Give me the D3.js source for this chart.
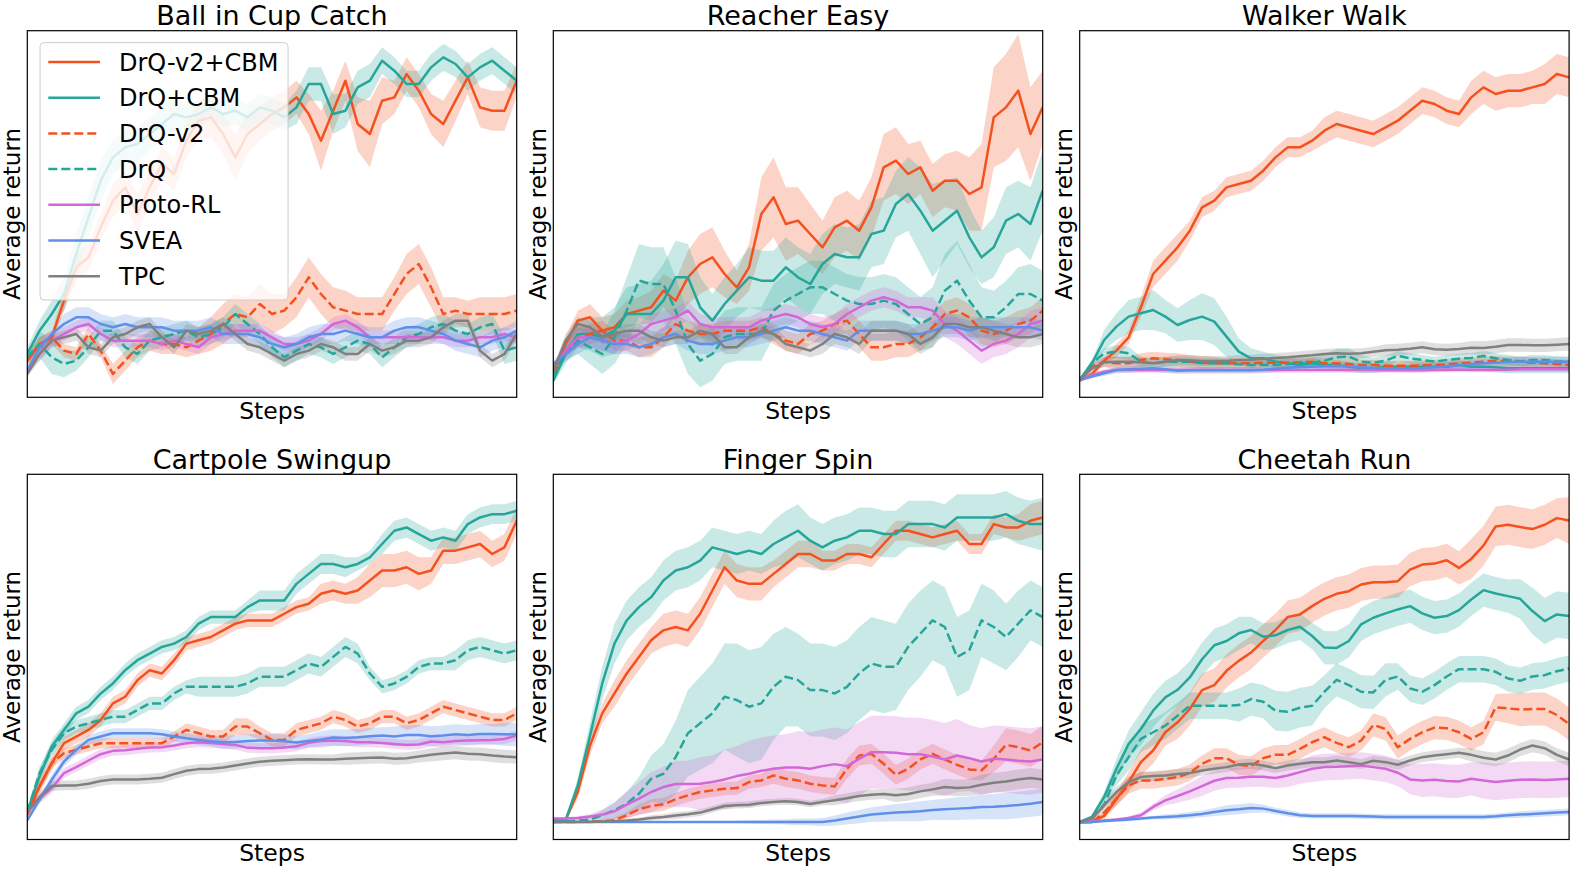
<!DOCTYPE html>
<html>
<head>
<meta charset="utf-8">
<script src="https://cdn.jsdelivr.net/npm/d3@7"></script>
<style>
  body { margin: 0; background: #fff; }
  svg { display: block; font-family: "DejaVu Sans", sans-serif; }
</style>
</head>
<body>
<svg id="chart" width="1573" height="870"></svg>
<script>
"use strict";

// methods, in legend order (also drawing order)
const methods = ["DrQ-v2+CBM", "DrQ+CBM", "DrQ-v2", "DrQ", "Proto-RL", "SVEA", "TPC"];
const colors = ["#f4511e", "#26a69a", "#f4511e", "#26a69a", "#d268d8", "#5f8fe8", "#808080"];
const dashed = [false, false, true, true, false, false, false];

const tasks = ["Ball in Cup Catch", "Reacher Easy", "Walker Walk", "Cartpole Swingup", "Finger Spin", "Cheetah Run"];

// normalised average return (0..110) at 41 evaluation steps, one row per method
const ballMean = [
  [11,16,18,29,39,42,51,59,63,55,63,70,67,77,83,84,79,72,79,82,85,87,90,85,77,86,95,82,79,89,90,97,92,85,82,89,96,87,86,86,95],
  [13,20,25,31,43,54,65,72,75,76,79,82,85,84,85,87,85,86,84,87,86,84,87,94,94,85,86,93,95,101,98,94,94,99,102,100,96,99,101,98,95],
  [11,16,18,14,13,19,14,7,11,15,17,16,16,15,17,19,22,25,24,28,25,26,30,36,31,27,26,25,25,25,31,37,40,33,25,26,25,25,25,25,26],
  [12,16,12,10,11,15,20,20,15,13,17,18,19,20,18,19,21,25,22,19,15,12,14,16,15,13,15,17,16,12,15,18,19,21,22,20,19,21,22,14,15],
  [8,13,17,19,21,22,19,17,17,17,17,16,17,16,15,18,19,20,20,20,18,16,16,17,19,22,23,21,18,18,18,18,18,18,18,17,17,18,18,19,18],
  [8,15,19,22,24,24,22,21,22,21,21,21,20,20,20,21,19,19,19,18,16,15,16,18,19,19,20,19,18,18,20,21,21,20,19,17,16,15,17,18,20],
  [7,13,17,18,19,15,14,18,19,21,22,18,15,20,19,20,22,19,16,15,13,11,13,14,16,15,13,13,16,14,15,17,17,18,21,23,23,14,11,13,19]
];
const ballBand = [
  [1,2,2,3,4,4,4,5,5,6,5,5,5,5,6,6,6,7,6,5,5,5,5,6,9,6,6,8,10,7,5,5,5,6,7,6,5,6,6,6,5],
  [2,3,4,5,6,6,6,5,5,5,5,5,5,4,4,4,4,4,4,4,4,4,5,5,5,6,5,5,5,4,4,4,4,4,4,4,4,4,4,4,4],
  [2,2,2,2,2,2,2,3,3,3,3,3,3,3,4,5,6,6,6,6,6,5,6,6,6,6,6,5,5,5,5,6,6,6,5,4,4,5,5,5,5],
  [2,4,5,4,3,3,3,3,3,3,3,3,3,3,3,3,3,3,3,3,3,3,3,3,3,3,3,3,3,3,3,3,3,3,3,3,3,3,3,4,4],
  [1,2,2,2,2,2,2,2,2,2,2,2,2,2,2,2,2,2,2,2,2,2,2,2,2,2,2,2,2,2,2,2,2,2,2,2,2,2,2,2,2],
  [1,2,2,3,3,3,3,3,3,3,3,3,3,3,3,3,3,3,3,3,3,3,3,3,3,3,3,3,3,3,3,3,3,3,3,3,3,3,3,3,3],
  [1,2,2,2,2,2,2,2,2,2,2,2,2,2,2,2,2,2,2,2,2,2,2,2,2,2,2,2,2,2,2,2,2,2,2,2,2,2,2,2,2]
];

const reacherMean = [
  [8,16,23,24,20,21,25,26,27,32,29,36,40,42,37,33,39,55,60,52,53,49,45,51,53,50,57,69,71,67,69,62,65,65,61,63,84,87,92,79,87],
  [5,13,19,19,18,20,25,25,25,29,36,36,27,23,28,32,36,35,35,39,36,34,40,43,42,42,49,50,58,61,56,50,53,56,48,42,45,53,55,52,62],
  [7,14,18,19,20,17,17,15,15,18,22,20,19,19,20,20,20,21,19,17,16,19,20,22,23,19,15,15,16,16,18,21,25,26,24,20,19,20,22,23,26],
  [6,14,17,15,13,18,26,35,34,34,26,16,11,13,18,19,19,19,26,29,31,33,33,31,29,28,28,29,28,25,22,24,32,35,29,24,24,27,31,31,29],
  [9,14,18,18,17,16,17,19,22,23,24,26,22,21,21,21,21,23,24,25,24,22,21,22,25,27,29,30,29,27,27,26,22,20,17,14,16,17,19,22,23],
  [10,13,16,18,17,16,16,15,16,18,19,17,16,16,17,18,18,19,20,21,20,20,19,18,17,20,20,20,20,19,19,20,21,21,20,21,21,21,21,21,20],
  [8,17,22,21,18,19,20,20,18,17,18,18,20,19,15,15,18,20,19,16,15,14,16,19,18,16,20,20,20,19,16,18,22,22,21,21,20,19,18,18,19]
];
const reacherBand = [
  [1,2,3,4,4,4,4,4,5,5,6,8,9,9,7,5,7,11,12,11,10,9,8,9,9,9,9,10,10,9,8,8,8,9,11,13,15,16,17,14,11],
  [1,3,4,5,6,7,8,9,10,11,11,10,9,8,8,8,9,9,9,9,9,9,9,9,9,10,10,10,10,11,13,14,12,10,9,8,9,10,10,11,12],
  [1,2,3,3,3,3,3,3,3,3,3,3,3,3,3,3,3,3,3,3,3,3,3,3,4,4,4,4,4,4,4,4,4,4,4,4,4,4,4,4,4],
  [1,3,4,5,6,8,10,11,11,11,10,9,8,8,8,8,8,8,8,8,8,8,8,8,8,8,8,8,8,8,8,9,11,12,11,9,8,8,8,9,9],
  [1,2,3,3,3,3,3,3,3,3,3,3,3,3,3,3,3,3,3,3,3,3,3,3,3,3,3,3,3,3,3,4,4,4,4,4,4,4,4,4,4],
  [1,2,3,3,3,3,3,3,3,3,3,3,3,3,3,3,3,3,3,3,3,3,3,3,3,3,3,3,3,3,3,3,3,3,3,3,3,3,3,3,3],
  [1,2,2,2,2,2,2,2,2,2,2,2,2,2,2,2,2,2,2,2,2,2,3,3,3,3,3,3,3,3,3,3,3,3,3,3,3,3,3,3,3]
];

const walkerMean = [
  [5,7,11,14,18,27,37,41,45,50,57,59,63,64,65,68,72,75,75,77,80,82,81,80,79,81,83,86,89,88,86,85,90,93,91,92,92,93,94,97,96],
  [5.2,10.2,17.2,21.2,24.2,25.2,26.2,24.2,21.7,23.2,24.2,22.7,18.2,13.7,11.7,11.7,10.7,10.2,9.7,10.2,9.7,9.7,9.2,8.7,8.7,9.2,9.2,9.2,9.2,9.2,9.2,9.7,9.2,9.2,9,8.7,8.7,8.7,8.7,8.7,8.7],
  [5.2,9.2,10.7,10.2,10.2,11.2,11.7,11.4,11.2,10.7,10.4,10.2,10.2,10.2,10.2,10.4,10.4,10.4,10.5,10.7,10.2,10.2,10,9.7,9.7,9.5,9.5,9.5,9.6,9.7,9.9,10.2,10.4,10.7,11,10.7,10.7,10.4,10.2,10,9.7],
  [5.2,10.2,13.2,13.7,13.2,10.7,10.2,10.7,10.7,10.7,10.2,10.2,10.2,9.9,9.7,9.7,9.7,10,10.2,10.4,11,12,12.2,10.7,10.4,11,12.4,11.7,11.2,10.7,11.2,11.6,11.8,12.4,11.7,11.2,10.8,11.2,11.2,10.8,10.7],
  [5.2,6.7,7.7,8.2,8.2,8.2,8.2,8.2,8.2,8.2,8.2,8.2,8.2,8.2,8.2,8.2,8.2,8.2,8.2,8.2,8.2,8.2,8.2,8.2,8.2,8.2,8.2,8.2,8.2,8.3,8.3,8.3,8.3,8.3,8.3,8.3,8.4,8.4,8.4,8.4,8.4],
  [5.2,6.2,7.2,8.2,8.4,8.6,8.7,8.4,8,8.1,8.1,8.1,8.1,8.1,8.1,8.3,8.6,8.9,9.1,9.2,9.3,9.4,9.3,9,8.8,8.7,8.7,8.7,8.8,9,9.3,9.6,9.9,10.2,10.4,10.6,10.7,10.7,10.7,10.7,10.7],
  [5.2,8.7,10.5,10.7,10.7,10.5,10.2,10.7,11.2,11.1,10.9,10.9,10.9,11.2,11.3,11.6,11.8,12,12.3,12.6,13,13.2,13.1,13.2,13.7,14.1,14.3,14.6,15,14.4,14.3,14.5,14.9,14.8,15.2,15.7,15.7,15.6,15.6,15.8,16]
];
const walkerBand = [
  [0.5,1,1,2,2,3,4,4,4,3,3,3,3,3,3,3,3,3,3,3,4,4,4,4,4,4,4,4,4,4,4,4,5,5,5,5,5,5,6,6,6],
  [0.5,1,3,4,5,5,6,5,5,6,7,7,6,4,3,2,2,2,1.5,1.5,1.5,1.5,1.5,1.5,1.5,1.5,1.5,1.5,1.5,1.5,1.5,1.5,1.5,1.5,1.5,1.5,1.5,1.5,1.5,1.5,1.5],
  [0.5,1,1.5,2,2,2,2,2,2,2,2,2,1.5,1.5,1.5,1.5,1.5,1.5,1.5,1.5,1.5,1.5,1.5,1.5,1.5,1.5,1.5,1.5,1.5,1.5,1.5,1.5,1.5,1.5,1.5,1.5,1.5,1.5,1.5,1.5,1.5],
  [0.5,1,1.5,2,2,1.5,1.5,1.5,1.5,1.5,1.5,1.5,1.5,1.5,1.5,1.5,1.5,1.5,1.5,1.5,2,2.5,2.5,2,1.5,1.5,1.5,1.5,1.5,1.5,1.5,1.5,1.5,1.5,1.5,1.5,1.5,1.5,1.5,1.5,1.5],
  [0.3,0.5,0.8,0.8,0.8,0.8,0.8,0.8,0.8,0.8,0.8,0.8,0.8,0.8,0.8,0.8,0.8,0.8,0.8,0.8,0.8,0.8,0.8,0.8,0.8,0.8,0.8,0.8,0.8,0.8,0.8,0.8,0.8,0.8,0.8,0.8,0.8,0.8,0.8,0.8,0.8],
  [0.3,0.5,0.8,1,1,1,1,1,1,1,1,1,1,1,1,1,1,1,1,1,1,1,1,1,1,1,1,1.2,1.2,1.2,1.2,1.2,1.3,1.3,1.3,1.4,1.4,1.5,1.5,1.5,1.5],
  [0.3,1,1.5,1.5,1.5,1.5,1.5,1.5,1.5,1.5,1.5,1.5,1.5,1.5,1.5,1.5,1.5,1.5,1.5,1.5,1.5,1.5,1.5,1.5,1.5,1.8,1.8,1.8,1.8,1.8,1.8,1.8,2,2,2,2,2,2,2,2,2]
];

const cartpoleMean = [
  [8.3,16,23,29,31,33,36,41,43,48,51,50,54,59,60,61,63,65,66,66,66,68,70,71,74,75,74,75,78,81,81,82,80,81,87,87,88,89,86,88,96],
  [8.3,19,28,33,38,40,44,47,51,54,56,58,59,61,65,67,67,67,70,72,72,72,77,80,83,83,82,83,85,89,93,94,92,90,91,90,95,97,98,98,99],
  [7.3,16,23,26,27,28,29,29,29,29,29,29,31,33,32,31,31,34,34,32,30,30,33,34,35,37,36,34,35,37,37,35,36,38,40,39,38,37,36,36,38],
  [8.3,20,27,32,34,35,36,37,37,39,41,41,44,46,46,46,46,46,47,49,49,49,51,53,52,55,58,56,50,46,47,49,52,53,53,54,57,58,57,56,57],
  [8.3,12.3,15.5,20,21.8,23.8,25.7,26.7,26.9,27.3,27.7,27.8,28.3,29,29.3,29.1,28.8,28.5,27.6,27.5,27.5,27.7,28.1,29.1,29.7,29.8,29.7,29.3,29.3,29.1,28.8,28.5,28.6,29.5,29.3,29.7,29.8,29.9,30,30.3,31.3],
  [5.8,12,18,23.5,27,30,31,32,32,32,32,31.7,31,30.5,30,29.6,29.3,29.4,29.7,29.8,29.8,29.6,29.2,29.7,30.1,30.7,30.6,30.8,31.1,31.3,31,31.5,31.5,31.1,31.3,31.7,31.5,31.8,31.8,31.7,31.6],
  [8.3,12.8,16.1,16.3,16.3,16.8,17.6,18.1,18.1,18.1,18.3,18.6,19.7,20.7,21.2,21.3,21.7,22.3,22.9,23.4,23.7,23.9,24.1,24.2,24.1,24.1,24.3,24.5,24.6,24.7,24.3,24.5,25,25.5,25.9,26.2,25.8,25.7,25.3,25,24.8]
];
const cartpoleBand = [
  [1,2,2,2,2,2,2,2,2,2,2,2,2,2,2,2,2,2,2,2,2,2,2,2,3,3,3,4,5,5,5,5,5,4,4,4,4,4,4,4,4],
  [1,2,2,2,2,2,2,2,2,2,2,2,2,2,2,2,2,2,2,3,3,3,3,3,3,3,3,2,2,3,3,3,3,3,3,3,3,3,3,3,3],
  [1,1.5,1.5,1.5,1.5,1.5,1.5,1.5,1.5,1.5,1.5,1.5,1.5,2,2,2,2,2.5,2.5,2,2,2,2,2,2,2,2,2,2,2,2,2,2,2,2,2,2,2,2,2,2],
  [1,2,2,2,2,2,2,2,2,2,2,2,2,2,3,3,3,3,3,3,3,3,3,3,3,3,3,3,2,2,2,2,2,2,2,3,3,3,3,3,3],
  [1,1.5,1.5,1.5,1.5,1.5,1.5,1.5,1.5,1.5,1.5,1.5,1.5,1.5,1.5,1.5,1.5,1.5,1.5,1.5,1.5,1.5,1.5,1.5,1.5,1.5,1.5,1.5,1.5,1.5,1.5,1.5,1.5,1.5,1.5,1.5,1.5,1.5,1.5,1.5,1.5],
  [0.5,1,1.5,1.5,1.5,1.5,1.5,1.5,1.5,1.5,1.5,1.5,1.5,1.5,1.5,1.5,2,2,2,2,2,2,2,2,2.5,2.5,2.5,2.5,2.5,2.5,3,3,3,3,3,3,3,3,3,3.5,3.5],
  [1,1.5,1.5,1.5,1.5,1.5,1.5,1.5,1.5,1.5,1.5,1.5,1.5,1.5,1.5,1.5,1.5,1.5,1.5,1.5,1.5,1.5,1.5,1.5,1.5,1.5,1.8,1.8,1.8,1.8,1.8,1.8,1.8,2,2,2,2,2,2,2,2]
];

const fingerMean = [
  [5.8,5.8,14.3,28.3,38,44,50,55,60,63,64,63,68,75,82,78,77,77,80,83,86,86,84,84,86,86,85,89,93,93,92,91,92,93,89,89,95,94,94,96,97],
  [5.8,5.8,16.3,31.3,47,59,66,70,73,78,81,82,84,88,87,86,87,86,89,91,93,90,88,90,91,93,93,92,92,95,95,95,94,97,97,97,97,98,96,95,95],
  [5.3,5.3,5.3,5.4,5.5,5.8,7.3,9.1,10.1,10.6,12.1,13.3,14.3,14.8,15.3,15.5,17.3,17.8,19.3,18.3,17.8,16.8,16.3,16,21.3,25.3,25.8,22.8,19.5,21.3,24.1,25.8,24.1,22.5,21.1,20.8,24.3,28.5,27.8,26.8,29.3],
  [5.3,5.5,5.7,6,7.3,8.8,10.8,13.8,18.3,19.8,24.8,32,35,38,43,42,40,41,46,49,48,45,45,44,46,50,53,52,52,58,62,66,64,55,57,66,64,61,65,69,67],
  [6.3,6.3,6.5,6.9,7.5,8.5,10.5,12.3,14.3,15.8,16.7,16.7,16.8,17.3,18.1,19.1,19.8,20.7,21.3,21.7,21.7,21.3,22.1,22.7,22.1,24.3,26.3,26.3,26.1,25.7,25.7,25,24.1,25.3,24.5,23.5,24.3,24.1,23.7,23.5,24.1],
  [5.3,5.3,5.3,5.3,5.3,5.3,5.3,5.3,5.3,5.3,5.3,5.3,5.3,5.3,5.3,5.3,5.3,5.3,5.3,5.3,5.3,5.3,5.3,5.7,6.3,6.9,7.5,7.8,8.1,8.3,8.5,8.9,9.1,9.3,9.5,9.8,9.9,10.1,10.4,10.8,11.3],
  [5.3,5.3,5.3,5.3,5.4,5.5,5.7,6,6.5,6.8,7.2,7.6,8.1,9.1,10.1,10.3,10.5,11,11.3,11.5,11.3,10.7,11.3,11.8,12.4,13.1,13.5,13.7,13.3,13.7,14.5,15.1,15.8,15.5,15.7,16.5,17.1,17.5,18.1,18.5,18.1]
];
const fingerBand = [
  [0.3,0.3,2,3,3,4,4,4,4,5,5,5,5,5,5,5,5,5,4,4,4,4,3,3,3,3,3,3,3,3,3,3,3,3,3,3,3,3,4,5,5],
  [0.3,0.3,2,4,5,6,6,6,6,6,6,6,6,6,6,6,6,6,7,8,8,7,7,7,7,7,7,7,7,7,7,7,7,7,7,7,7,7,7,7,8],
  [0.3,0.3,0.3,0.3,0.5,0.8,1,1.5,2,2,2,2,2,2,2,2,2,2,2.5,2.5,2.5,2.5,2.5,2.5,3,3,3,3,3,3,3,3,3,3,3,3,4,5,5,5,5],
  [0.5,0.5,0.5,0.8,1.5,2.5,3.5,5,7,9,11,13,14,15,16,17,17,17,16,15,14,14,14,14,14,14,14,14,13,13,13,12,12,12,12,11,11,10,10,9,9],
  [0.5,0.5,0.5,0.8,1.5,2.5,4,5,6,6,7,7,8,8,9,9,10,10,10,10,11,11,11,11,11,11,11,11,11,11,11,11,11,11,10,10,10,10,10,10,10],
  [0.2,0.2,0.2,0.2,0.2,0.2,0.2,0.2,0.2,0.2,0.2,0.2,0.2,0.2,0.3,0.4,0.5,0.6,0.7,0.8,1,1,1.2,1.5,1.8,2,2.2,2.4,2.6,2.8,3,3,3.2,3.4,3.5,3.6,3.8,4,4,4,4],
  [0.3,0.3,0.3,0.3,0.3,0.3,0.5,0.5,0.8,0.8,1,1,1,1,1,1,1,1,1,1,1,1,1,1.5,1.5,1.5,1.5,1.5,2,2,2,2,2.5,2.5,2.5,3,3,3,3,3,3]
];

const cheetahMean = [
  [5.3,5.3,7.1,12.1,17.3,23.3,26.8,32.3,35.3,39.3,45,46.5,50.8,53.8,56.3,59.8,63.1,67,67.8,70.3,72.5,74,74.8,76.8,77.5,77.5,77.8,81.3,82.8,83.1,84.1,81.8,84.5,88.5,94.3,94.8,94.1,93.5,94.8,96.8,96.1],
  [5.3,6.8,12.8,21.3,28.8,33.3,38.8,42.8,45.1,48.8,54.3,58.5,59.8,62.1,63.1,61.1,61.5,63.1,64.1,61.3,57.8,57.7,59.8,64.8,66.8,68.1,69.3,70.3,68.1,66.8,67.3,69.1,72.3,75.1,74.1,73.3,72.5,68.8,65.8,67.8,67.3],
  [5.3,5.3,8.1,12.3,16.3,17.8,17.8,18.3,18.8,20.1,22.8,24.5,24.5,22.5,22.1,24.5,25.5,25.5,27.3,29.3,30.8,29.1,27.8,29.8,34.5,33.3,27.8,30.3,32.3,33.7,33.5,32.3,30.3,32.3,39.8,39.5,39.1,39.3,39.3,37.5,34.8],
  [5.3,6.3,10.5,19.3,24.8,30.3,32.3,34.3,37.3,40.3,40.3,40.3,40.3,40.5,42.3,41.5,38.8,38.5,39.7,40.3,44.5,48.1,46.5,44.5,44.3,48.1,49.1,45.5,44.5,46.5,49.1,51.3,51.3,51.3,50.5,48.5,47.8,49.1,49.5,50.7,51.5],
  [5.3,5.5,5.7,6,6.5,7.3,9.8,11.8,13.1,14.5,16.1,17.7,18.5,18.6,18.9,18.9,18.5,19.3,20.3,21.3,21.8,21.9,22.1,22.3,21.8,21.3,20.1,18.1,17.8,18,17.6,17.5,18.3,17.8,17.3,17.7,18,18.1,17.9,18.1,18.3],
  [5.1,5.3,5.6,5.8,6,6.3,6.6,6.8,7,7.3,7.7,8.3,8.8,9.1,9.5,9.3,8.6,7.9,7.3,7.1,7.1,7.1,7.1,7,6.9,6.8,6.8,6.8,6.8,6.8,6.8,6.8,6.8,6.8,7,7.3,7.5,7.7,7.9,8.1,8.3],
  [5.3,6.3,10.3,14.3,17.3,18.8,19.1,19.3,19.7,20,20.8,21.3,21.8,22.6,22.8,22.3,21.5,22.3,22.8,23.3,23.3,23.8,23.3,22.7,23.7,23.3,22.5,23.8,24.8,25.3,25.7,26.1,25.5,24.6,24.1,25.3,27.1,28.3,27.5,25.5,24.1]
];
const cheetahBand = [
  [0.3,0.5,1,2,3,4,4,4,5,5,5,5,5,5,5,5,5,5,5,5,5,5,5,5,5,5,5,5,5,5,5,5,6,6,6,6,6,6,6,6,7],
  [0.3,0.5,1.5,3,4,5,5,5,5,5,5,5,5,5,4,4,4,4,4,4,5,5,5,5,5,5,5,5,5,5,5,5,5,5,5,5,6,7,7,7,7],
  [0.3,0.5,1,2,2.5,2.5,2.5,2.5,2.5,2.5,2.5,3,3,3,3,3,3,3,3,3,3,3,3,3,3.5,3.5,3.5,3.5,3.5,3.5,3.5,3.5,3.5,3.5,4,4.5,5,5,5,5,5],
  [0.3,0.5,1.5,3,4,4,4,4,4,4,4,4,4,5,5,5,6,6,6,6,5,5,5,5,5,5,4,4,4,4,4,4,4,4,4,4,4,4,4,4,4],
  [0.3,0.3,0.3,0.3,0.5,0.8,1,1.5,2,2.5,3,3,3,3,3,3,3,3.5,3.5,4,4,4,4,4,4,4,4,4.5,5,5,5,5,5,5.5,5.5,5.5,5.5,5.5,5.5,5.5,5.5],
  [0.3,0.3,0.5,0.5,0.5,0.5,0.5,0.8,0.8,1,1,1.2,1.5,1.5,1.5,1.2,1,1,0.8,0.8,0.8,0.8,0.8,0.8,0.8,0.8,0.8,0.8,0.8,0.8,0.8,0.8,0.8,0.8,0.8,0.8,1,1,1,1,1],
  [0.3,0.5,1,1.5,1.5,1.5,1.5,1.5,1.5,1.5,1.5,1.5,1.5,1.5,1.5,1.5,1.5,1.5,1.5,1.5,1.5,1.5,1.5,1.5,1.5,1.5,1.5,1.5,1.5,1.5,1.5,1.5,2,2,2,2,2,2,2,2,2]
];

const means = [ballMean, reacherMean, walkerMean, cartpoleMean, fingerMean, cheetahMean];
const bands = [ballBand, reacherBand, walkerBand, cartpoleBand, fingerBand, cheetahBand];

// layout
const colLeft = [27.3, 553.3, 1079.7];
const rowTop = [30.7, 474.3];
const panelW = 489.4;
const panelH = [366.6, 365.2];
const FONT = 23.5;
const LW = 2.5;

const svg = d3.select("#chart");

tasks.forEach((task, p) => {
  const col = p % 3, row = Math.floor(p / 3);
  const left = colLeft[col], top = rowTop[row], h = panelH[row];

  const x = d3.scaleLinear().domain([0, 40]).range([left, left + panelW]);
  const y = d3.scaleLinear().domain([0, 110]).range([top + h, top]);

  const g = svg.append("g").attr("class", "panel");
  const clipId = "clip" + p;
  g.append("clipPath").attr("id", clipId)
    .append("rect").attr("x", left).attr("y", top).attr("width", panelW).attr("height", h);

  const plot = g.append("g").attr("clip-path", `url(#${clipId})`);
  const mean = means[p], band = bands[p];

  const area = k => d3.area()
      .x((d, i) => x(i))
      .y0((d, i) => y(d - band[k][i]))
      .y1((d, i) => y(d + band[k][i]));
  const line = d3.line().x((d, i) => x(i)).y(d => y(d));

  // shaded bands first, lines on top (matplotlib zorder)
  plot.selectAll("path.band")
      .data(mean)
    .enter().append("path")
      .attr("class", "band")
      .attr("d", (d, k) => area(k)(d))
      .attr("fill", (d, k) => colors[k])
      .attr("fill-opacity", 0.25)
      .attr("stroke", "none");

  plot.selectAll("path.line")
      .data(mean)
    .enter().append("path")
      .attr("class", "line")
      .attr("d", line)
      .attr("fill", "none")
      .attr("stroke", (d, k) => colors[k])
      .attr("stroke-width", LW)
      .attr("stroke-dasharray", (d, k) => dashed[k] ? "9,4" : null)
      .attr("stroke-linejoin", "round");

  g.append("rect")
      .attr("x", left).attr("y", top)
      .attr("width", panelW).attr("height", h)
      .attr("fill", "none").attr("stroke", "#000").attr("stroke-width", 1.2);

  g.append("text")
      .attr("x", left + panelW / 2).attr("y", top - 5.3)
      .attr("text-anchor", "middle")
      .attr("font-size", 27)
      .attr("fill", "#000")
      .text(task);

  g.append("text")
      .attr("x", left + panelW / 2).attr("y", top + h + 21.7)
      .attr("text-anchor", "middle")
      .attr("font-size", FONT)
      .text("Steps");

  g.append("text")
      .attr("transform", `translate(${left - 7.8},${top + h / 2}) rotate(-90)`)
      .attr("text-anchor", "middle")
      .attr("font-size", 23)
      .text("Average return");

  if (p === 0) {
    const lg = g.append("g");
    lg.append("rect")
        .attr("x", 40).attr("y", 42.7)
        .attr("width", 248).attr("height", 257.3)
        .attr("rx", 4)
        .attr("fill", "#fff").attr("fill-opacity", 0.8)
        .attr("stroke", "#cccccc").attr("stroke-width", 1);
    const items = lg.selectAll("g.item")
        .data(methods)
      .enter().append("g")
        .attr("class", "item")
        .attr("transform", (d, k) => `translate(0,${62 + k * 35.7})`);
    items.append("line")
        .attr("x1", 48.3).attr("x2", 100)
        .attr("stroke", (d, k) => colors[k])
        .attr("stroke-width", LW)
        .attr("stroke-dasharray", (d, k) => dashed[k] ? "9,4" : null);
    items.append("text")
        .attr("x", 119).attr("dy", "0.36em")
        .attr("font-size", 24)
        .text(d => d);
  }
});
</script>
</body>
</html>
